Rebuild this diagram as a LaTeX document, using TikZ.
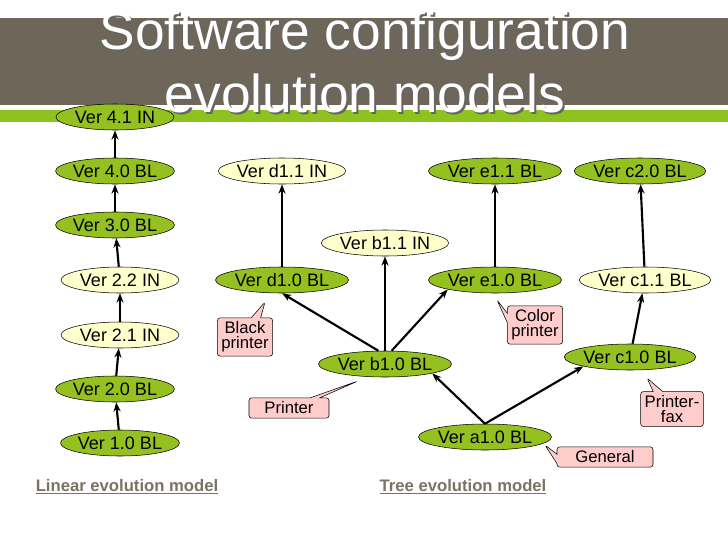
\documentclass[tikz,border=0pt]{standalone}
\usepackage{fontspec}
\setmainfont{Liberation Sans}
\usetikzlibrary{shapes.geometric,shapes.callouts,arrows.meta,shadows}
\definecolor{ban}{HTML}{6F665A}
\definecolor{lg}{HTML}{8DC21F}
\definecolor{gn}{HTML}{94C11F}
\definecolor{yl}{HTML}{FFFFCC}
\definecolor{pk}{HTML}{FFCCCC}
\definecolor{lbl}{HTML}{7A7265}
\tikzset{
 ver/.style={ellipse,draw=black,thin,minimum width=118pt*0.75,minimum height=26pt*0.75,inner sep=0pt,font=\fontsize{13.5}{13.5}\selectfont},
 vg/.style={ver,fill=gn},
 vy/.style={ver,fill=yl},
 arr/.style={-{Stealth[length=7pt]},line width=1.6pt},
 note/.style={rectangle callout,draw=black,fill=pk,rounded corners=2pt,align=center,font=\fontsize{12.5}{11}\selectfont,inner sep=3pt},
 capt/.style={font=\bfseries\fontsize{12.5}{12.5}\selectfont,text=lbl}
}
\begin{document}
\begin{tikzpicture}[x=0.75pt,y=-0.75pt]
\useasboundingbox (0,0) rectangle (728,546);
\fill[ban] (0,18) rectangle (728,105);
\fill[lg] (0,110) rectangle (728,122);
\node[text=black!60,font=\fontsize{40}{47}\selectfont,align=center] at (367,64) {Software configuration\\evolution models};
\node[text=white,font=\fontsize{40}{47}\selectfont,align=center] (title) at (365,62) {Software configuration\\evolution models};
% linear
\node[vg] (l41) at (115,117) {Ver 4.1 IN};
\node[vg] (l40) at (115,171) {Ver 4.0 BL};
\node[vg] (l30) at (115,225) {Ver 3.0 BL};
\node[vy] (l22) at (120,280) {Ver 2.2 IN};
\node[vy] (l21) at (120,335) {Ver 2.1 IN};
\node[vg] (l20) at (115,389) {Ver 2.0 BL};
\node[vg] (l10) at (120,443) {Ver 1.0 BL};
\draw[arr] (l40) -- (l41);
\draw[arr] (l30) -- (l40);
\draw[arr] (l22) -- (l30);
\draw[arr] (l21) -- (l22);
\draw[arr] (l20) -- (l21);
\draw[arr] (l10) -- (l20);
% tree
\node[vy] (d11) at (282,171) {Ver d1.1 IN};
\node[vg] (d10) at (282,280) {Ver d1.0 BL};
\node[vy] (b11) at (385,243) {Ver b1.1 IN};
\node[vg] (e11) at (495,171) {Ver e1.1 BL};
\node[vg] (e10) at (495,280) {Ver e1.0 BL};
\node[vg] (c20) at (640,171) {Ver c2.0 BL};
\node[vy] (c11) at (645,280) {Ver c1.1 BL};
\node[vg] (b10) at (385,364) {Ver b1.0 BL};
\node[vg] (c10) at (630,357) {Ver c1.0 BL};
\node[vg] (a10) at (485,437) {Ver a1.0 BL};
\draw[arr] (d10) -- (d11);
\draw[arr] (e10) -- (e11);
\draw[arr] (c11) -- (c20);
\draw[arr] (c10) -- (c11);
\coordinate (bs1) at ([xshift=-5pt]b10.north);
\coordinate (bs2) at ([xshift=5pt]b10.north);
\draw[arr] (bs1) -- (d10.south);
\draw[arr] (b10.north) -- (b11);
\draw[arr] (bs2) -- (e10.south west);
\draw[arr] (a10.north) -- (b10.south east);
\draw[arr] (a10.north) -- (c10.south west);
% callouts
\node[note,callout absolute pointer={(265,302)}] (n1) at (245,337) {Black\\printer};
\node[note,callout absolute pointer={(497,300)}] (n2) at (535,325) {Color\\printer};
\node[note,callout absolute pointer={(358,381)},minimum width=80pt*0.75] (n3) at (289,408) {Printer};
\node[note,callout absolute pointer={(647,378)}] (n4) at (672,409) {Printer-\\fax};
\node[note,callout absolute pointer={(545,445)},minimum width=96pt*0.75] (n5) at (605,457) {General};
\node[capt] (cl) at (127,487) {\underline{Linear evolution model}};
\node[capt] (ct) at (463,487) {\underline{Tree evolution model}};
\end{tikzpicture}
\end{document}
